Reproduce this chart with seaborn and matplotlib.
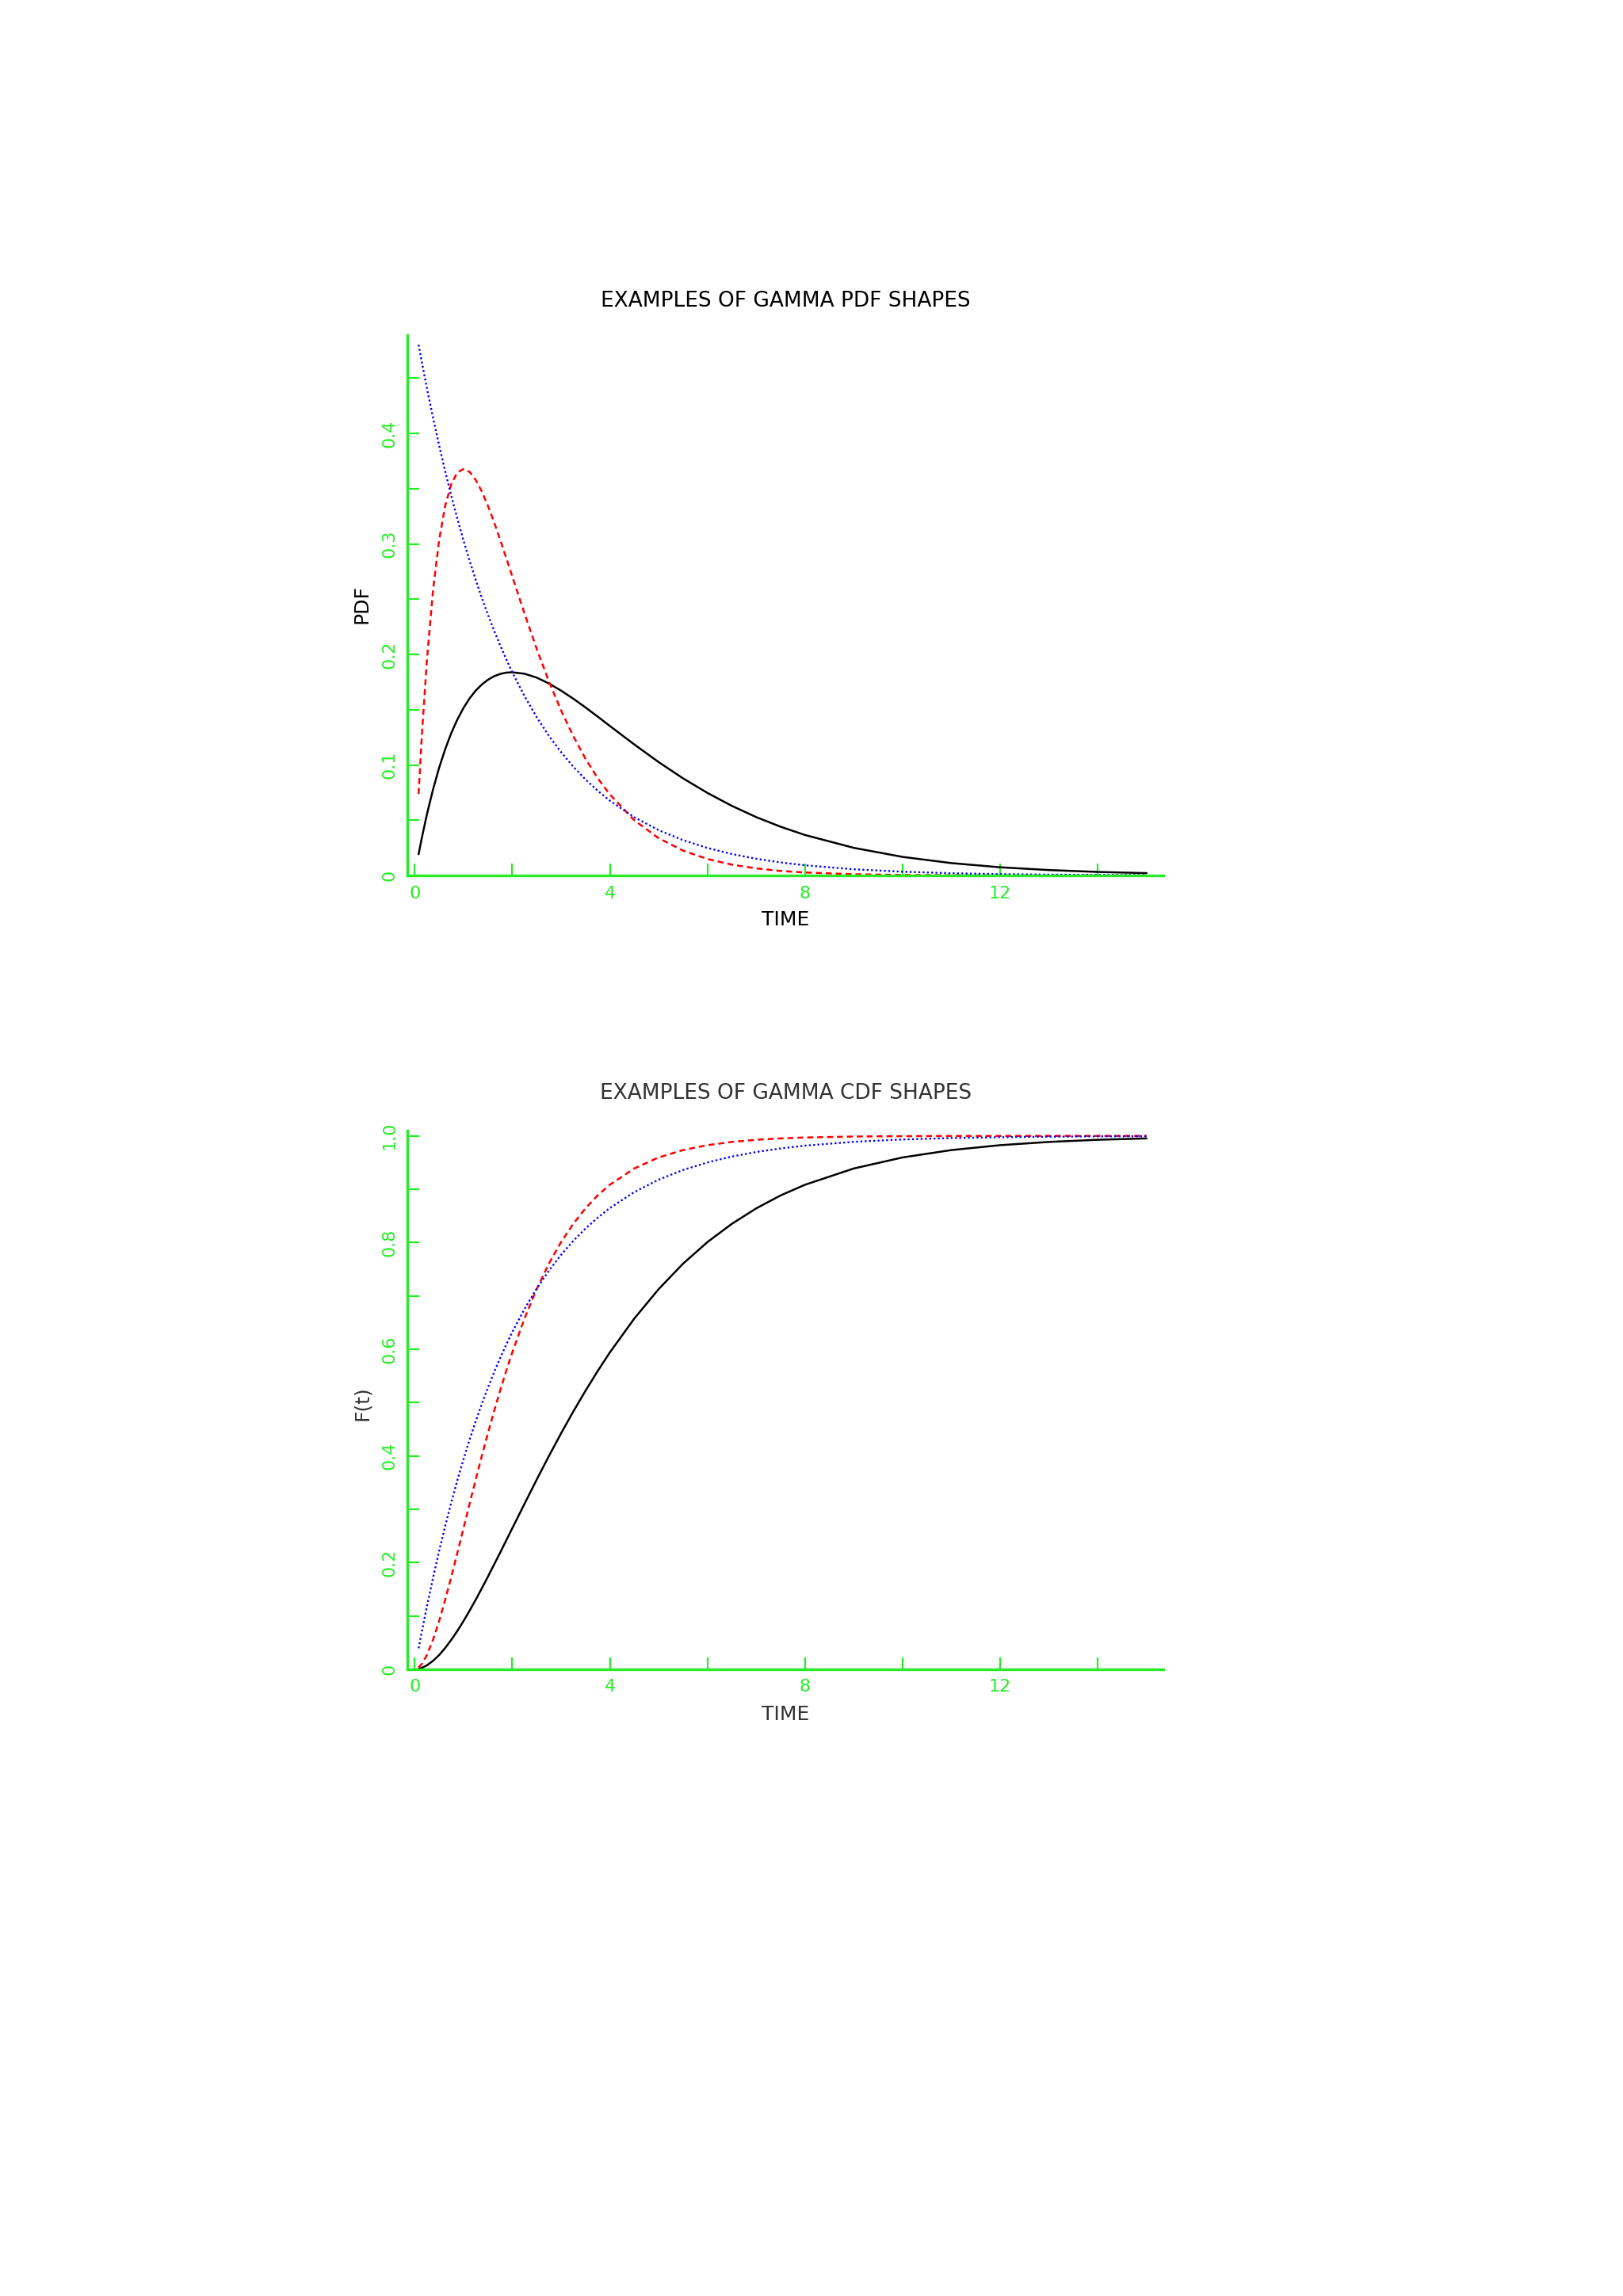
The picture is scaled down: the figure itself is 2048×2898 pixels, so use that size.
import matplotlib
matplotlib.use("Agg")
import matplotlib.pyplot as plt
import seaborn as sns

# time grid
time = [0.08, 0.15, 0.25, 0.375, 0.5, 0.625, 0.75, 0.875, 1.0, 1.125, 1.25,
        1.375, 1.5, 1.625, 1.75, 1.875, 2.0, 2.25, 2.5, 2.75, 3.0, 3.25, 3.5,
        3.75, 4.0, 4.5, 5.0, 5.5, 6.0, 6.5, 7.0, 7.5, 8.0, 9.0, 10.0, 11.0,
        12.0, 13.0, 14.0, 15.0]

# PDF curves
pdf_black = [0.0192, 0.0348, 0.0552, 0.0777, 0.0974, 0.1143, 0.1289, 0.1412,
             0.1516, 0.1603, 0.1673, 0.1728, 0.1771, 0.1803, 0.1824, 0.1836,
             0.1839, 0.1826, 0.1791, 0.1738, 0.1673, 0.1600, 0.1521, 0.1438,
             0.1353, 0.1186, 0.1026, 0.0879, 0.0747, 0.0630, 0.0528, 0.0441,
             0.0366, 0.0250, 0.0168, 0.0112, 0.0074, 0.0049, 0.0032, 0.0021]
pdf_red = [0.0738, 0.1291, 0.1947, 0.2577, 0.3033, 0.3346, 0.3543, 0.3648,
           0.3679, 0.3653, 0.3581, 0.3476, 0.3347, 0.3200, 0.3041, 0.2876,
           0.2707, 0.2372, 0.2052, 0.1757, 0.1494, 0.1261, 0.1057, 0.0881,
           0.0733, 0.0500, 0.0337, 0.0225, 0.0149, 0.0098, 0.0064, 0.0041,
           0.0027, 0.0011, 0.00045, 0.00018, 0.00007, 0.00003, 0.00001, 0.0]
pdf_blue = [0.4804, 0.4639, 0.4412, 0.4145, 0.3894, 0.3658, 0.3437, 0.3228,
            0.3033, 0.2849, 0.2676, 0.2514, 0.2362, 0.2219, 0.2085, 0.1958,
            0.1839, 0.1624, 0.1433, 0.1264, 0.1116, 0.0985, 0.0869, 0.0767,
            0.0677, 0.0527, 0.0410, 0.0320, 0.0249, 0.0194, 0.0151, 0.0118,
            0.0092, 0.0056, 0.0034, 0.0020, 0.0012, 0.00075, 0.00046, 0.00028]

# CDF curves
cdf_black = [0.0008, 0.0027, 0.0072, 0.0156, 0.0265, 0.0398, 0.0550, 0.0719,
             0.0902, 0.1097, 0.1301, 0.1515, 0.1733, 0.1958, 0.2183, 0.2413,
             0.2642, 0.3100, 0.3554, 0.3996, 0.4422, 0.4831, 0.5220, 0.5590,
             0.5940, 0.6574, 0.7127, 0.7604, 0.8009, 0.8351, 0.8641, 0.8884,
             0.9084, 0.9389, 0.9596, 0.9734, 0.9826, 0.9887, 0.9927, 0.9953]
cdf_red = [0.0030, 0.0102, 0.0265, 0.0550, 0.0902, 0.1301, 0.1733, 0.2183,
           0.2642, 0.3100, 0.3554, 0.3996, 0.4422, 0.4831, 0.5220, 0.5590,
           0.5940, 0.6574, 0.7127, 0.7604, 0.8009, 0.8351, 0.8641, 0.8884,
           0.9084, 0.9389, 0.9596, 0.9734, 0.9826, 0.9887, 0.9927, 0.9953,
           0.9970, 0.9988, 0.9995, 0.9998, 0.9999, 1.0, 1.0, 1.0]
cdf_blue = [0.0392, 0.0723, 0.1175, 0.1710, 0.2212, 0.2684, 0.3127, 0.3544,
            0.3935, 0.4302, 0.4647, 0.4972, 0.5276, 0.5563, 0.5831, 0.6084,
            0.6321, 0.6753, 0.7135, 0.7472, 0.7769, 0.8031, 0.8262, 0.8466,
            0.8647, 0.8946, 0.9179, 0.9361, 0.9502, 0.9612, 0.9698, 0.9765,
            0.9817, 0.9889, 0.9933, 0.9959, 0.9975, 0.9985, 0.9991, 0.9994]

x_ticks = [0, 2, 4, 6, 8, 10, 12, 14]
x_labels = ['0', '', '4', '', '8', '', '12', '']
pdf_ticks = [0, 0.05, 0.1, 0.15, 0.2, 0.25, 0.3, 0.35, 0.4, 0.45]
pdf_labels = ['0', '', '0.1', '', '0.2', '', '0.3', '', '0.4', '']
cdf_ticks = [0, 0.1, 0.2, 0.3, 0.4, 0.5, 0.6, 0.7, 0.8, 0.9, 1.0]
cdf_labels = ['0', '', '0.2', '', '0.4', '', '0.6', '', '0.8', '', '1.0']

GREEN = '#26ec26'
FONT = ['Liberation Sans Narrow', 'DejaVu Sans']

sns.set_theme(style='white')
plt.rcParams['font.family'] = FONT

fig = plt.figure(figsize=(20.48, 28.98), dpi=100)
ax_pdf = fig.add_axes([0.251, 0.6187, 0.466, 0.2353])
ax_cdf = fig.add_axes([0.251, 0.2730, 0.466, 0.2346])

styles = [('black', '-', 1.8), ('red', (0, (3, 2)), 1.8), ('blue', (0, (1, 1.3)), 1.7)]


def draw_panel(ax, series, yticks, ylabels, ymax):
    for (color, ls, lw), vals in zip(styles, series):
        sns.lineplot(x=time, y=vals, ax=ax, color=color, linestyle=ls,
                     linewidth=lw, estimator=None, sort=False)
    ax.set_xlim(-0.15, 15.35)
    ax.set_ylim(0, ymax)
    for side in ['top', 'right']:
        ax.spines[side].set_visible(False)
    for side in ['left', 'bottom']:
        ax.spines[side].set_color(GREEN)
        ax.spines[side].set_linewidth(2.4)
    ax.set_xticks(x_ticks)
    ax.set_xticklabels(x_labels)
    ax.set_yticks(yticks)
    ax.set_yticklabels(ylabels, rotation=90, va='center')
    ax.tick_params(bottom=True, left=True, direction='in', length=11,
                   width=1.6, color=GREEN, labelcolor=GREEN, labelsize=16, pad=9)
    ax.set_xlabel('')
    ax.set_ylabel('')


draw_panel(ax_pdf, [pdf_black, pdf_red, pdf_blue], pdf_ticks, pdf_labels, 0.489)
draw_panel(ax_cdf, [cdf_black, cdf_red, cdf_blue], cdf_ticks, cdf_labels, 1.01)

# titles and axis labels
fig.text(0.484, 0.869, 'EXAMPLES OF GAMMA PDF SHAPES', ha='center', va='center',
         fontsize=19, color='black')
fig.text(0.484, 0.5994, 'TIME', ha='center', va='center', fontsize=18, color='black')
fig.text(0.223, 0.737, 'PDF', ha='center', va='center', rotation=90,
         fontsize=18, color='black')

fig.text(0.484, 0.5238, 'EXAMPLES OF GAMMA CDF SHAPES', ha='center', va='center',
         fontsize=19, color='#333333')
fig.text(0.484, 0.2533, 'TIME', ha='center', va='center', fontsize=18, color='#333333')
fig.text(0.223, 0.389, 'F(t)', ha='center', va='center', rotation=90,
         fontsize=18, color='#333333')

fig.savefig('out.png', dpi=100, facecolor='white')
